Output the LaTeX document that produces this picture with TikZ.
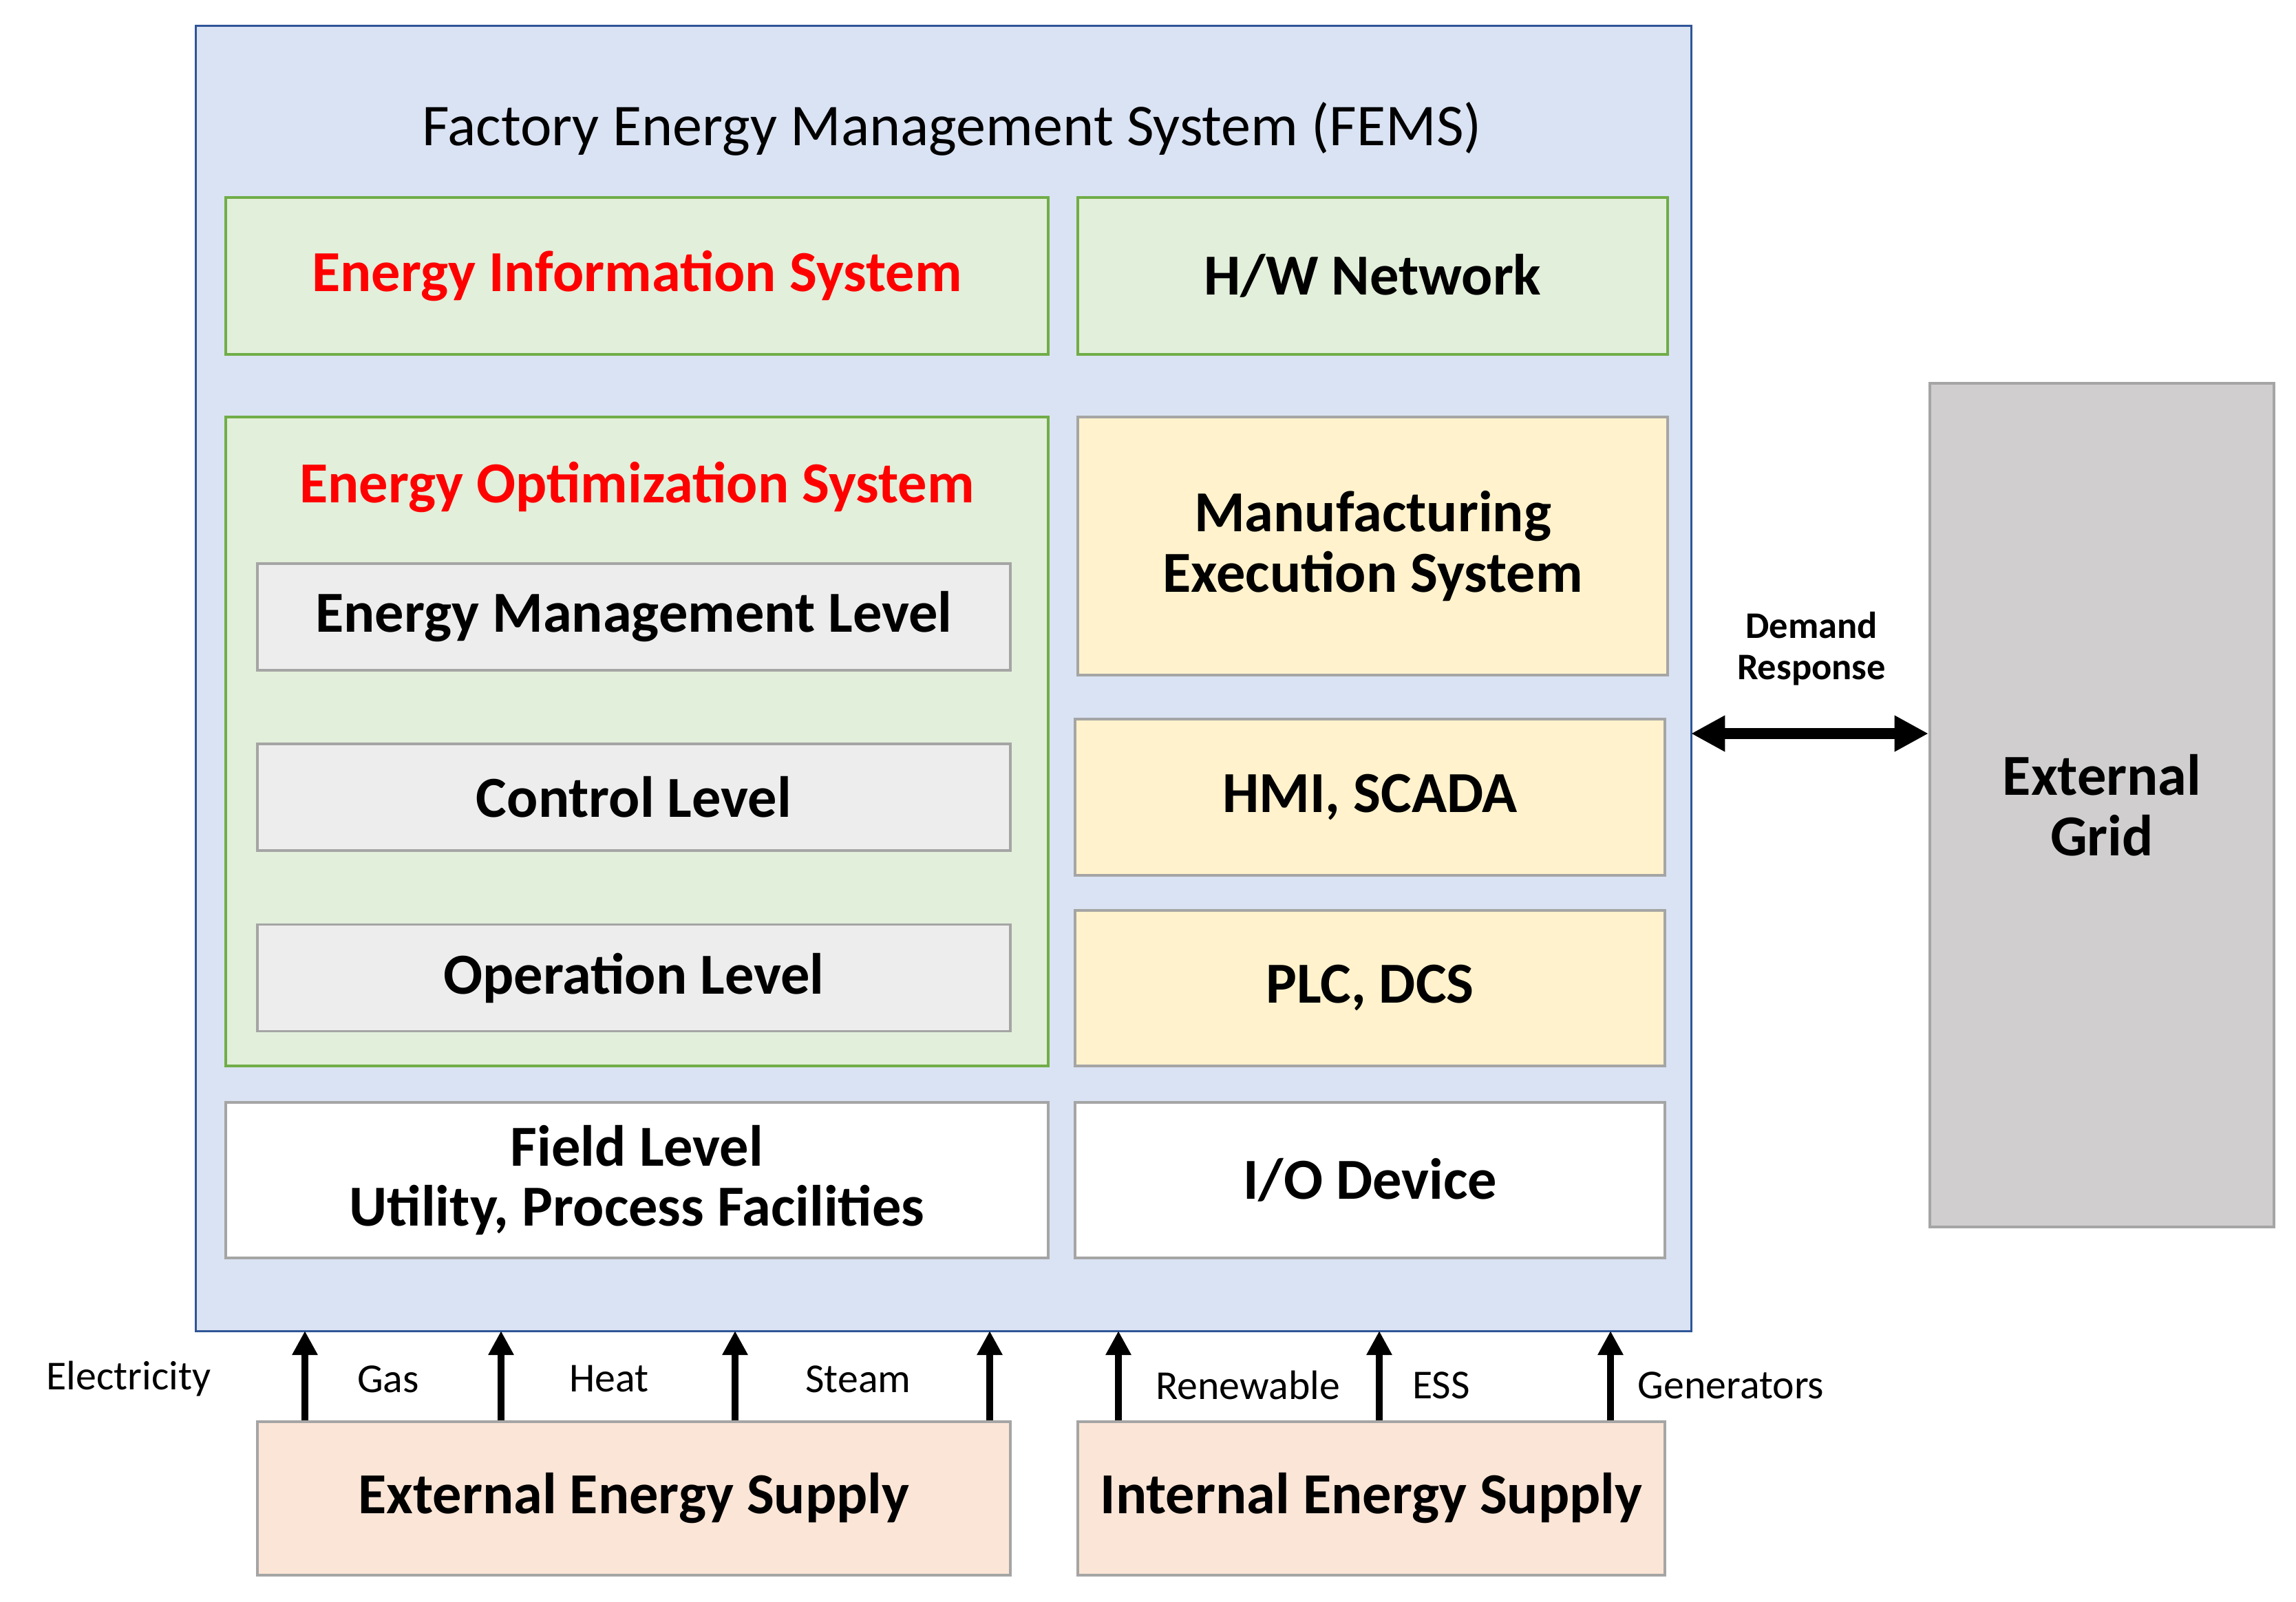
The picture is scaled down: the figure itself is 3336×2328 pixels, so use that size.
\documentclass[tikz,border=0pt]{standalone}
\usepackage{fontspec}
\setmainfont{Carlito}
\usetikzlibrary{arrows.meta}
\definecolor{femsfill}{HTML}{DAE3F3}
\definecolor{femsline}{HTML}{2F5597}
\definecolor{greenfill}{HTML}{E2EFDA}
\definecolor{greenline}{HTML}{70AD47}
\definecolor{grayfill}{HTML}{EDEDED}
\definecolor{grayline}{HTML}{A5A5A5}
\definecolor{yellowfill}{HTML}{FFF2CC}
\definecolor{gridfill}{HTML}{D0CECE}
\definecolor{supplyfill}{HTML}{FBE5D6}
\definecolor{hotred}{HTML}{FF0000}
\begin{document}
\begin{tikzpicture}[x=0.01cm, y=-0.01cm,
  blk/.style 2 args={rectangle, draw=#2, fill=#1, line width=1.1pt, align=center, inner sep=0pt, font=\bfseries\fontsize{24}{25}\selectfont},
  sz/.style 2 args={minimum width=#1cm, minimum height=#2cm},
  flow/.style={-{Triangle[width=10pt,length=10pt]}, line width=3pt},
  dr/.style={{Triangle[width=14pt,length=14pt]}-{Triangle[width=14pt,length=14pt]}, line width=4.5pt},
  lbl/.style={font=\fontsize{17}{20}\selectfont}
]
  \useasboundingbox (0,0) rectangle (3336,2328);
  \node[rectangle, draw=femsline, fill=femsfill, line width=1pt, sz={21.72}{18.96}] (fems) at (1371,986) {};
  \node[font=\fontsize{24.5}{28}\selectfont] (title) at (1383,187) {Factory Energy Management System (FEMS)};

  \node[blk={greenfill}{greenline}, sz={11.95}{2.28}, text=hotred] (eis) at (925.5,401) {Energy Information System};
  \node[blk={greenfill}{greenline}, sz={8.57}{2.28}] (hw) at (1994.5,401) {H/W Network};
  \node[blk={greenfill}{greenline}, sz={11.95}{9.43}] (eos) at (925.5,1077.5) {};
  \node[font=\bfseries\fontsize{24}{25}\selectfont, text=hotred] (eostitle) at (925.5,708) {Energy Optimization System};
  \node[blk={grayfill}{grayline}, sz={10.94}{1.55}] (eml) at (921,896.5) {Energy Management Level};
  \node[blk={grayfill}{grayline}, sz={10.94}{1.55}] (ctrl) at (921,1158.5) {Control Level};
  \node[blk={grayfill}{grayline}, sz={10.94}{1.55}] (oper) at (921,1421) {Operation Level};

  \node[blk={yellowfill}{grayline}, sz={8.57}{3.75}] (mes) at (1994.5,793.5) {Manufacturing\\Execution System};
  \node[blk={yellowfill}{grayline}, sz={8.57}{2.27}] (hmi) at (1990.5,1158.5) {HMI, SCADA};
  \node[blk={yellowfill}{grayline}, sz={8.57}{2.26}] (plc) at (1990.5,1436) {PLC, DCS};
  \node[blk={white}{grayline}, sz={11.95}{2.26}] (field) at (925.5,1715) {Field Level\\Utility, Process Facilities};
  \node[blk={white}{grayline}, sz={8.57}{2.26}] (io) at (1990.5,1715) {I/O Device};

  \node[blk={gridfill}{grayline}, sz={5.00}{12.26}] (grid) at (3054,1170) {External\\Grid};
  \coordinate (drin) at (2457,1066);
  \draw[dr] (drin) -- (grid.west |- drin);
  \node[font=\bfseries\fontsize{15.5}{17}\selectfont, align=center] (drlbl) at (2632,943) {Demand\\Response};

  \node[blk={supplyfill}{grayline}, sz={10.94}{2.23}] (ext) at (921,2177.5) {External Energy Supply};
  \node[blk={supplyfill}{grayline}, sz={8.53}{2.23}] (int) at (1992.5,2177.5) {Internal Energy Supply};

  \foreach \x [count=\i] in {443,728,1068,1438}
    {\coordinate (e\i) at (\x,1934);
     \draw[flow] (ext.north -| e\i) -- (e\i);}
  \foreach \x [count=\i] in {1625,2004,2340}
    {\coordinate (n\i) at (\x,1934);
     \draw[flow] (int.north -| n\i) -- (n\i);}

  \node[lbl] (elec) at (187,2004) {Electricity};
  \node[lbl] (gas) at (564,2004) {Gas};
  \node[lbl] (heat) at (885,2004) {Heat};
  \node[lbl] (steam) at (1247,2004) {Steam};
  \node[lbl] (renew) at (1813,2013) {Renewable};
  \node[lbl] (ess) at (2094,2013) {ESS};
  \node[lbl] (gen) at (2515,2013) {Generators};
\end{tikzpicture}
\end{document}
